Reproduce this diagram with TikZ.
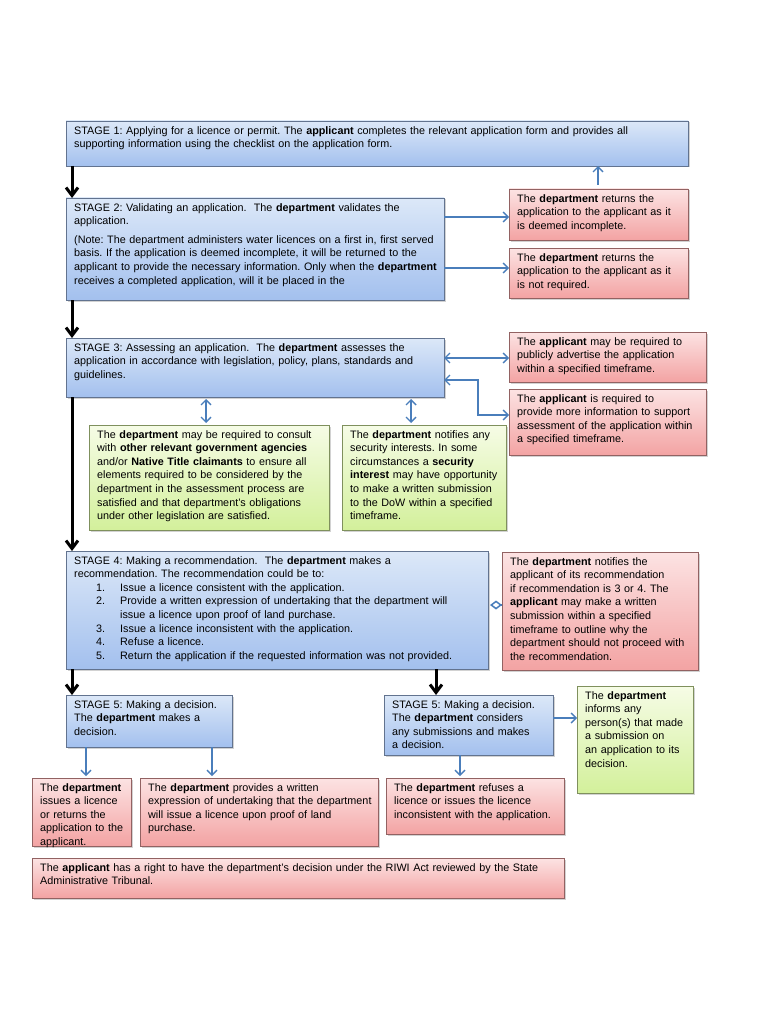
\documentclass[tikz,border=0pt]{standalone}
\usepackage{fontspec}
\setmainfont{Liberation Sans}
\usetikzlibrary{arrows.meta,shadows}
\definecolor{bl1}{HTML}{DCE8F8}\definecolor{bl2}{HTML}{A3C0EE}
\definecolor{rd1}{HTML}{FCE3E3}\definecolor{rd2}{HTML}{F3A3A3}
\definecolor{gr1}{HTML}{F6FCE6}\definecolor{gr2}{HTML}{D3F09B}
\definecolor{ab}{HTML}{4A7EBB}
\tikzset{
 bx/.style={draw=#1!60!black,line width=0.8pt,drop shadow={opacity=0.35,shadow xshift=1.5pt,shadow yshift=-1.5pt}},
 blue box/.style={bx=bl2,top color=bl1,bottom color=bl2},
 red box/.style={bx=rd2,top color=rd1,bottom color=rd2},
 green box/.style={bx=gr2,top color=gr1,bottom color=gr2},
 txt/.style={anchor=north west,align=left,inner sep=0pt,font=\fontsize{10.8}{13.6}\selectfont},
 big/.style={-{Straight Barb[length=8pt,width=12pt,line width=3pt]},line width=3pt,black},
 ba/.style={-{Straight Barb[length=5pt,width=10pt,line width=1.4pt]},ab,line width=1.2pt},
 bb/.style={{Straight Barb[length=5pt,width=10pt,line width=1.4pt]}-{Straight Barb[length=5pt,width=10pt,line width=1.4pt]},ab,line width=1.2pt},
}
\newcommand\mkbox[7]{%
 \path[#2] (#3,#4) rectangle (#5,#6);
 \coordinate (#1) at ({(#3+#5)/2},{(#4+#6)/2});
 \coordinate (#1nw) at (#3,#4); \coordinate (#1se) at (#5,#6);
 \pgfmathsetmacro\tw{#5-#3-13}
 \node[txt,text width=\tw pt] (#1t) at ({#3+8},{#4+5}) {#7};}
\begin{document}
\frenchspacing\hyphenpenalty=10000\exhyphenpenalty=10000
\begin{tikzpicture}[x=1pt,y=-1pt]
\useasboundingbox[fill=white] (0,0) rectangle (768,1024);
\mkbox{s1}{blue box}{66}{121}{688}{166}{STAGE 1: Applying for a licence or permit. The \textbf{applicant} completes the relevant application form and provides all\\ supporting information using the checklist on the application form.}
\mkbox{s2}{blue box}{66}{198}{444}{300}{STAGE 2: Validating an application.\ \ The \textbf{department} validates the\\ application.\\[5pt](Note: The department administers water licences on a first in, first served basis. If the application is deemed incomplete, it will be returned to the applicant to provide the necessary information. Only when the \textbf{department} receives a completed application, will it be placed in the}
\mkbox{r1}{red box}{509}{189}{688}{240}{The \textbf{department} returns the application to the applicant as it is deemed incomplete.}
\mkbox{r2}{red box}{509}{248}{688}{298}{The \textbf{department} returns the application to the applicant as it is not required.}
\mkbox{s3}{blue box}{66}{338}{444}{397}{STAGE 3: Assessing an application.\ \ The \textbf{department} assesses the application in accordance with legislation, policy, plans, standards and guidelines.}
\mkbox{r3}{red box}{509}{332}{706}{382}{The \textbf{applicant} may be required to publicly advertise the application within a specified timeframe.}
\mkbox{r4}{red box}{509}{389}{706}{455}{The \textbf{applicant} is required to provide more information to support assessment of the application within a specified timeframe.}
\mkbox{g1}{green box}{89}{425}{329}{530}{The \textbf{department} may be required to consult with \textbf{other relevant government agencies} and/or \textbf{Native Title claimants} to ensure all elements required to be considered by the department in the assessment process are satisfied and that department's obligations under other legislation are satisfied.}
\mkbox{g2}{green box}{342}{425}{506}{530}{The \textbf{department} notifies any security interests. In some circumstances a \textbf{security interest} may have opportunity to make a written submission to the DoW within a specified timeframe.}
\mkbox{s4}{blue box}{66}{551}{488}{669}{STAGE 4: Making a recommendation.\ \ The \textbf{department} makes a\\ recommendation. The recommendation could be to:\\
\hspace*{22pt}\makebox[24pt][l]{1.}Issue a licence consistent with the application.\\
\hspace*{22pt}\makebox[24pt][l]{2.}Provide a written expression of undertaking that the department will\\
\hspace*{46pt}issue a licence upon proof of land purchase.\\
\hspace*{22pt}\makebox[24pt][l]{3.}Issue a licence inconsistent with the application.\\
\hspace*{22pt}\makebox[24pt][l]{4.}Refuse a licence.\\
\hspace*{22pt}\makebox[24pt][l]{5.}Return the application if the requested information was not provided.}
\mkbox{r5}{red box}{502}{552}{698}{670}{The \textbf{department} notifies the applicant of its recommendation if recommendation is 3 or 4. The \textbf{applicant} may make a written submission within a specified timeframe to outline why the department should not proceed with the recommendation.}
\mkbox{s5a}{blue box}{66}{695}{232}{747}{STAGE 5: Making a decision. The \textbf{department} makes a decision.}
\mkbox{s5b}{blue box}{384}{695}{553}{755}{STAGE 5: Making a decision. The \textbf{department} considers any submissions and makes a decision.}
\mkbox{g3}{green box}{577}{686}{693}{793}{The \textbf{department} informs any person(s) that made a submission on an application to its decision.}
\mkbox{r6}{red box}{32}{778}{131}{846}{The \textbf{department} issues a licence or returns the application to the applicant.}
\mkbox{r7}{red box}{140}{778}{378}{846}{The \textbf{department} provides a written expression of undertaking that the department will issue a licence upon proof of land purchase.}
\mkbox{r8}{red box}{386}{778}{564}{834}{The \textbf{department} refuses a licence or issues the licence inconsistent with the application.}
\mkbox{r9}{red box}{32}{858}{564}{898}{The \textbf{applicant} has a right to have the department's decision under the RIWI Act reviewed by the State Administrative Tribunal.}
% black arrows
\draw[big] (s1nw|-s1se) ++(6,0) -- ++(0,32);
\draw[big] (s2nw|-s2se) ++(6,0) -- ++(0,38);
\draw[big] (s3nw|-s3se) ++(6,0) -- ++(0,154);
\draw[big] (s4nw|-s4se) ++(6,0) -- ++(0,26);
\draw[big] (436,669) -- (436,695);
% blue arrows
\draw[ba] (r1nw) ++(89,-4) -- ++(0,-19);
\draw[ba] (444,217) -- (r1nw|-0,217);
\draw[ba] (444,268) -- (r2nw|-0,268);
\draw[bb] (444,358) -- (r3nw|-0,358);
\draw[bb] (444,380) -- (478,380) -- (478,415) -- (r4nw|-0,415);
\draw[bb] (206,399) -- (206,423);
\draw[bb] (411,399) -- (411,423);
\draw[{Diamond[open,length=12pt,width=9pt,line width=1.5pt]}-,ab,line width=1.2pt] (490,605) -- (r5nw|-0,605);
\draw[ba] (86,747) -- (86,776);
\draw[ba] (212,747) -- (212,776);
\draw[ba] (460,755) -- (460,776);
\draw[ba] (553,718) -- (g3nw|-0,718);
\end{tikzpicture}
\end{document}
